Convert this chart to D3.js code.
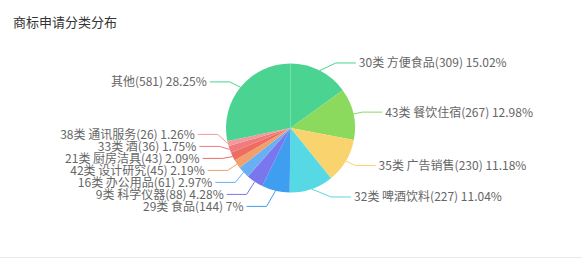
<!DOCTYPE html>
<html><head><meta charset="utf-8">
<script src="https://cdn.jsdelivr.net/npm/d3@7/dist/d3.min.js"></script>
<style>
html,body{margin:0;padding:0;background:#fff;}
svg{display:block;}
</style></head>
<body><svg id="c" width="582" height="261"></svg>
<script>
const title = "商标申请分类分布";
const categories = ["30类 方便食品","43类 餐饮住宿","35类 广告销售","32类 啤酒饮料","29类 食品","9类 科学仪器","16类 办公用品","42类 设计研究","21类 厨房洁具","33类 酒","38类 通讯服务","其他"];
const values = [309,267,230,227,144,88,61,45,43,36,26,581];
const palette = ["#4bd392","#8cda5d","#f9d46e","#56d9e5","#3f9ef0","#7976ee","#6aaff4","#f2a06b","#ef6c61","#f07b7d","#f29a9b"];

const W=582,H=261;
const cx=290.5, cy=128, R=64.5;
const rA=73, rB=83, len2=20, gap=3, lineH=12;

const svg=d3.select("#c");
svg.append("text").attr("x",13).attr("y",27).attr("font-family","'Noto Sans CJK SC',sans-serif")
  .attr("font-size",13).attr("fill","#333").text(title);
svg.append("line").attr("x1",0).attr("x2",W).attr("y1",257.5).attr("y2",257.5).attr("stroke","#e8e8e8");

const total=d3.sum(values);
const color=d3.scaleOrdinal().domain(d3.range(values.length)).range(palette);
const pie=d3.pie().value(d=>d).sort(null);
const arcs=pie(values);
const arc=d3.arc().innerRadius(0).outerRadius(R);
const g=svg.append("g").attr("transform",`translate(${cx},${cy})`);
g.selectAll("path").data(arcs).join("path").attr("d",arc).attr("fill",(d,i)=>color(i));

// label layout
const items=arcs.map((a,i)=>{
  const m=(a.startAngle+a.endAngle)/2;
  const s=Math.sin(m), c=-Math.cos(m);
  return {i, m, ex:cx+R*s, ey:cy+R*c, y0:cy+rA*c, dir:s>=0?1:-1,
    text:`${categories[i]}(${values[i]}) ${+(values[i]/total*100).toFixed(2)}%`};
});
function relax(list){
  list.sort((a,b)=>a.y0-b.y0);
  let clusters=list.map(it=>({items:[it]}));
  const place=cl=>{const mean=d3.mean(cl.items,d=>d.y0);cl.top=mean-(cl.items.length-1)*lineH/2;};
  clusters.forEach(place);
  let changed=true;
  while(changed){
    changed=false;
    for(let k=0;k<clusters.length-1;k++){
      const a=clusters[k],b=clusters[k+1];
      if(a.top+a.items.length*lineH>b.top+0.01){
        a.items=a.items.concat(b.items);place(a);clusters.splice(k+1,1);changed=true;break;
      }
    }
  }
  clusters.forEach(cl=>cl.items.forEach((it,k)=>it.y=cl.top+k*lineH));
}
relax(items.filter(d=>d.dir>0));
relax(items.filter(d=>d.dir<0));
items.forEach(d=>{
  const dy=d.y-cy;
  const dx=rA*Math.sqrt(Math.max(0,1-dy*dy/(rB*rB)));
  d.kx=cx+d.dir*dx;
  d.lx=d.kx+d.dir*len2;
  d.tx=d.lx+d.dir*gap;
});
const lg=svg.append("g");
lg.selectAll("polyline").data(items).join("polyline")
  .attr("points",d=>[[d.ex,d.ey],[d.kx,d.y],[d.lx,d.y]].map(p=>p.join(",")).join(" "))
  .attr("fill","none").attr("stroke",d=>color(d.i)).attr("stroke-width",1);
lg.selectAll("text").data(items).join("text")
  .attr("x",d=>d.tx).attr("y",d=>d.y).attr("dy","0.37em")
  .attr("text-anchor",d=>d.dir>0?"start":"end")
  .attr("font-family","'Noto Sans CJK SC',sans-serif").attr("font-size",12).attr("fill","#666")
  .text(d=>d.text);
</script></body></html>
